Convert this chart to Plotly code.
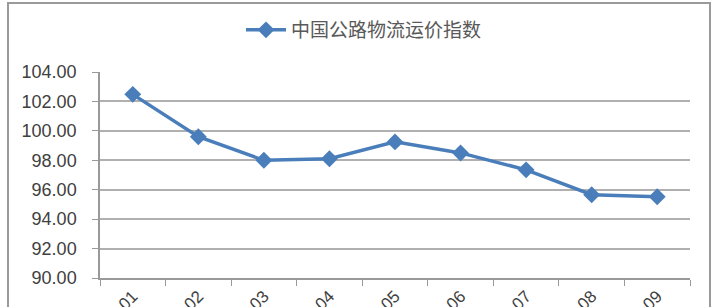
import plotly.graph_objects as go

categories = ["2016-01", "2016-02", "2016-03", "2016-04", "2016-05",
              "2016-06", "2016-07", "2016-08", "2016-09"]
values = [102.48, 99.6, 98.0, 98.1, 99.25, 98.5, 97.35, 95.66, 95.52]
series_name = "中国公路物流运价指数"
y_ticks = [90, 92, 94, 96, 98, 100, 102, 104]
y_tick_labels = ["%.2f" % v for v in y_ticks]

W, H = 720, 307
L, R, T, B = 100, 30, 72, 29
pw, ph = W - L - R, H - T - B

fig = go.Figure()
fig.add_trace(go.Scatter(
    x=categories, y=values, name=series_name, mode="lines+markers",
    line=dict(color="#4a7ebb", width=3.5),
    marker=dict(symbol="diamond", size=13, color="#4a7ebb"),
    showlegend=True,
))

fig.update_layout(
    width=W, height=H,
    margin=dict(l=L, r=R, t=T, b=B, autoexpand=False),
    paper_bgcolor="white", plot_bgcolor="white",
    font=dict(family="Liberation Sans, Arial, sans-serif", color="#404040", size=18),
    showlegend=True,
    legend=dict(
        x=(364 - L) / pw, xanchor="center",
        y=(H - B - 30) / ph, yanchor="middle",
        orientation="h",
        font=dict(family="Noto Sans CJK SC", size=19, color="#595959"),
        bgcolor="rgba(0,0,0,0)",
        itemwidth=40,
    ),
    xaxis=dict(
        type="category", tickangle=-45, tickson="boundaries",
        ticks="outside", ticklen=6, tickcolor="#999999",
        showline=True, linecolor="#999999", linewidth=1.5,
        showgrid=False, automargin=False,
        tickfont=dict(size=17, color="#404040"),
        range=[-0.5, len(categories) - 0.5],
    ),
    yaxis=dict(
        range=[90, 104], tickvals=y_ticks, ticktext=y_tick_labels,
        ticks="outside", ticklen=6, tickcolor="#999999",
        showline=True, linecolor="#999999", linewidth=1.5,
        showgrid=True, gridcolor="#b0b0b0", gridwidth=1.5,
        zeroline=False, automargin=False, ticklabelstandoff=12,
        tickfont=dict(size=18, color="#404040"),
    ),
    shapes=[dict(
        type="rect", xref="paper", yref="paper",
        x0=(8 - L) / pw, x1=(710 - L) / pw,
        y0=(H - B - 320) / ph, y1=(H - B - 3) / ph,
        line=dict(color="#9a9a9a", width=2), fillcolor="rgba(0,0,0,0)",
        layer="below",
    )],
)

fig.write_html("out.html")
